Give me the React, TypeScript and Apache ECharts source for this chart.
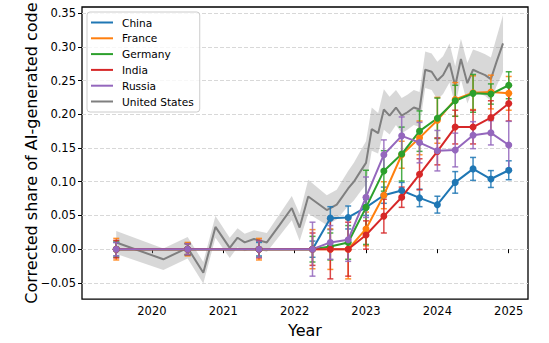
import React, { useEffect, useRef } from 'react';
import * as echarts from 'echarts';

// ---- data ----
const quarters = [2019.5, 2020.5, 2021.5, 2022.25, 2022.5, 2022.75, 2023, 2023.25, 2023.5, 2023.75, 2024, 2024.25, 2024.5, 2024.75, 2025];

const chinaValues = [0, 0, 0, 0, 0.046, 0.047, 0.062, 0.080, 0.087, 0.076, 0.066, 0.099, 0.119, 0.104, 0.117];
const chinaErrors = [0.010, 0.009, 0.010, 0.012, 0.017, 0.017, 0.012, 0.012, 0.012, 0.013, 0.0125, 0.016, 0.017, 0.0125, 0.014];

const franceValues = [0, 0, 0, 0, 0, 0, 0.030, 0.080, 0.140, 0.165, 0.191, 0.222, 0.232, 0.233, 0.231];
const franceErrors = [0.016, 0.010, 0.016, 0.029, 0.030, 0.044, 0.025, 0.020, 0.020, 0.025, 0.034, 0.025, 0.025, 0.025, 0.025];

const germanyValues = [0, 0, 0, 0, 0.004, 0.010, 0.062, 0.116, 0.141, 0.175, 0.194, 0.220, 0.231, 0.230, 0.243];
const germanyErrors = [0.012, 0.008, 0.012, 0.019, 0.020, 0.025, 0.055, 0.030, 0.040, 0.030, 0.030, 0.023, 0.028, 0.015, 0.020];

const indiaValues = [0, 0, 0, 0, 0, 0, 0.021, 0.049, 0.077, 0.111, 0.145, 0.181, 0.181, 0.195, 0.216];
const indiaErrors = [0.013, 0.008, 0.013, 0.024, 0.044, 0.040, 0.021, 0.025, 0.015, 0.023, 0.020, 0.025, 0.025, 0.025, 0.026];

const russiaValues = [0, 0, 0, 0, 0.010, 0.014, 0.077, 0.140, 0.168, 0.158, 0.146, 0.147, 0.169, 0.1725, 0.1545];
const russiaErrors = [0.010, 0.008, 0.012, 0.040, 0.025, 0.032, 0.030, 0.022, 0.028, 0.030, 0.030, 0.025, 0.020, 0.018, 0.035];

const usYears = [2019.5, 2020.16, 2020.5, 2020.72, 2020.89, 2021.09, 2021.2, 2021.3, 2021.43, 2021.61, 2021.79, 2021.96, 2022.07, 2022.19, 2022.45, 2022.59, 2022.67, 2022.75, 2022.83, 2022.92, 2023.0, 2023.08, 2023.17, 2023.25, 2023.33, 2023.42, 2023.5, 2023.58, 2023.67, 2023.75, 2023.83, 2023.92, 2024.0, 2024.08, 2024.17, 2024.25, 2024.33, 2024.42, 2024.5, 2024.58, 2024.67, 2024.75, 2024.83, 2024.92];
const usValues = [0.010, -0.015, 0.002, -0.035, 0.033, 0.002, 0.017, 0.010, 0.015, 0.010, 0.036, 0.061, 0.032, 0.078, 0.058, 0.066, 0.078, 0.090, 0.100, 0.115, 0.128, 0.178, 0.172, 0.207, 0.198, 0.210, 0.198, 0.203, 0.210, 0.207, 0.266, 0.263, 0.250, 0.258, 0.276, 0.242, 0.282, 0.246, 0.266, 0.262, 0.258, 0.252, 0.278, 0.305];
const usBand = [0.017, 0.016, 0.016, 0.016, 0.016, 0.015, 0.014, 0.013, 0.013, 0.014, 0.016, 0.018, 0.020, 0.025, 0.022, 0.022, 0.024, 0.026, 0.028, 0.030, 0.032, 0.032, 0.030, 0.030, 0.028, 0.026, 0.026, 0.026, 0.026, 0.026, 0.027, 0.027, 0.028, 0.028, 0.029, 0.029, 0.030, 0.030, 0.030, 0.031, 0.031, 0.032, 0.036, 0.042];

const xTicks = [2020, 2021, 2022, 2023, 2024, 2025];
const yTicks = [-0.05, 0, 0.05, 0.1, 0.15, 0.2, 0.25, 0.3, 0.35];

const countryNames = ['China', 'France', 'Germany', 'India', 'Russia'];
const countryColors = ['#1f77b4', '#ff7f0e', '#2ca02c', '#d62728', '#9467bd'];
const countryValues = [chinaValues, franceValues, germanyValues, indiaValues, russiaValues];
const countryErrors = [chinaErrors, franceErrors, germanyErrors, indiaErrors, russiaErrors];
const usName = 'United States';
const usColor = '#7f7f7f';

const FONT = 'DejaVu Sans';

function buildOption() {
  const series: any[] = [];

  // US confidence band (polygon)
  series.push({
    type: 'custom',
    name: 'us-band',
    z: 1,
    silent: true,
    data: usYears.map((y, i) => [y, usValues[i], usBand[i]]),
    encode: { x: 0, y: 1 },
    renderItem: (params: any, api: any) => {
      if (params.dataIndex !== 0) return { type: 'group', children: [] };
      const upper = usYears.map((y, i) => api.coord([y, usValues[i] + usBand[i]]));
      const lower = usYears.map((y, i) => api.coord([y, usValues[i] - usBand[i]])).reverse();
      return {
        type: 'polygon',
        shape: { points: upper.concat(lower) },
        style: { fill: 'rgba(127,127,127,0.3)', stroke: 'none' },
      };
    },
  });

  // US line
  series.push({
    type: 'line',
    name: usName,
    z: 2,
    data: usYears.map((y, i) => [y, usValues[i]]),
    showSymbol: false,
    symbol: 'none',
    color: usColor,
    lineStyle: { color: usColor, width: 2 },
  });

  countryNames.forEach((name, ci) => {
    const color = countryColors[ci];
    const vals = countryValues[ci];
    const errs = countryErrors[ci];
    series.push({
      type: 'custom',
      name: name + ' error',
      z: 3,
      silent: true,
      data: quarters.map((q, i) => [q, vals[i], errs[i]]),
      encode: { x: 0, y: 1 },
      renderItem: (params: any, api: any) => {
        const x = api.value(0);
        const v = api.value(1);
        const e = api.value(2);
        const top = api.coord([x, v + e]);
        const bot = api.coord([x, v - e]);
        const cap = 3;
        const st = { stroke: color, lineWidth: 1.5, opacity: 0.85 };
        return {
          type: 'group',
          children: [
            { type: 'line', shape: { x1: top[0], y1: top[1], x2: bot[0], y2: bot[1] }, style: st },
            { type: 'line', shape: { x1: top[0] - cap, y1: top[1], x2: top[0] + cap, y2: top[1] }, style: st },
            { type: 'line', shape: { x1: bot[0] - cap, y1: bot[1], x2: bot[0] + cap, y2: bot[1] }, style: st },
          ],
        };
      },
    });
    series.push({
      type: 'line',
      name,
      z: 3,
      data: quarters.map((q, i) => [q, vals[i]]),
      color,
      symbol: 'circle',
      symbolSize: 7,
      showSymbol: true,
      lineStyle: { color, width: 2 },
      itemStyle: { color },
    });
  });

  return {
    animation: false,
    textStyle: { fontFamily: FONT },
    grid: {
      left: 82,
      right: 21,
      top: 7,
      bottom: 38,
      show: true,
      borderColor: '#000',
      borderWidth: 1.3,
      backgroundColor: 'transparent',
    },
    legend: {
      data: countryNames.concat([usName]),
      orient: 'vertical',
      left: 87,
      top: 12,
      icon: 'rect',
      itemWidth: 22,
      itemHeight: 2,
      itemGap: 2.8,
      padding: [4, 6, 4, 4],
      backgroundColor: 'rgba(255,255,255,0.8)',
      borderColor: '#cccccc',
      borderWidth: 1,
      borderRadius: 3,
      selectedMode: false,
      textStyle: { fontFamily: FONT, fontSize: 10.6, color: '#000', lineHeight: 13, padding: [0, 0, 0, 4] },
    },
    xAxis: {
      type: 'value',
      min: 2019.02,
      max: 2025.27,
      name: 'Year',
      nameLocation: 'middle',
      nameGap: 18,
      nameTextStyle: { fontFamily: FONT, fontSize: 16, color: '#000' },
      axisLine: { show: false },
      splitLine: { show: false },
      axisTick: { show: true, customValues: xTicks, length: 4, lineStyle: { color: '#000', width: 1 } },
      axisLabel: {
        customValues: xTicks,
        formatter: (v: number) => String(Math.round(v)),
        fontFamily: FONT,
        fontSize: 11.5,
        color: '#000',
        margin: 6,
      },
    },
    yAxis: {
      type: 'value',
      min: -0.074,
      max: 0.359,
      name: 'Corrected share of AI-generated code',
      nameLocation: 'middle',
      nameGap: 43,
      nameMoveOverlap: false,
      nameTextStyle: { fontFamily: FONT, fontSize: 16, color: '#000' },
      axisLine: { show: false },
      splitLine: { show: true, lineStyle: { color: '#d8d8d8', width: 1, type: [4, 2] } },
      axisTick: { show: true, customValues: yTicks, length: 4, lineStyle: { color: '#000', width: 1 } },
      axisLabel: {
        customValues: yTicks,
        formatter: (v: number) => (v < -1e-9 ? '\u2212' : '') + Math.abs(v).toFixed(2),
        fontFamily: FONT,
        fontSize: 11.5,
        color: '#000',
        margin: 6,
      },
    },
    series,
  };
}

export default function App() {
  const ref = useRef<HTMLDivElement>(null);
  useEffect(() => {
    document.body.style.margin = '0';
    const chart = echarts.init(ref.current!, null, { renderer: 'svg' });
    chart.setOption(buildOption() as any);
    return () => chart.dispose();
  }, []);
  return <div ref={ref} style={{ width: 549, height: 343 }} />;
}
